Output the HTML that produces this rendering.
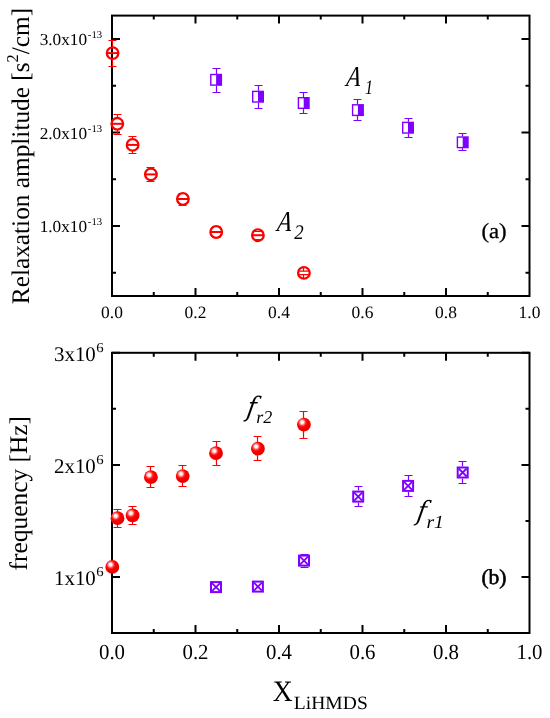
<!DOCTYPE html>
<html><head><meta charset="utf-8"><title>Relaxation amplitude and frequency vs X LiHMDS</title>
<style>
html,body{margin:0;padding:0;background:#fff;}
body{width:550px;height:718px;overflow:hidden;}
svg{display:block;}
text{font-family:"Liberation Serif", "Times New Roman", serif;fill:#000;text-rendering:geometricPrecision;}
</style></head>
<body>
<svg width="550" height="718" viewBox="0 0 550 718">
<defs>
<radialGradient id="bg" cx="0.38" cy="0.35" r="0.62" fx="0.37" fy="0.33">
<stop offset="0" stop-color="#ffffff"/>
<stop offset="0.16" stop-color="#fff2f2"/>
<stop offset="0.42" stop-color="#ff2a2a"/>
<stop offset="0.56" stop-color="#ff0000"/>
<stop offset="1" stop-color="#e40000"/>
</radialGradient>
</defs>
<rect width="550" height="718" fill="#fff"/>
<text transform="translate(101.08 318.15) scale(1.005 1)" font-size="17.37">0.0</text>
<text transform="translate(184.58 318.15) scale(1.005 1)" font-size="17.37">0.2</text>
<text transform="translate(268.08 318.15) scale(1.005 1)" font-size="17.37">0.4</text>
<text transform="translate(351.58 318.15) scale(1.005 1)" font-size="17.37">0.6</text>
<text transform="translate(435.08 318.15) scale(1.005 1)" font-size="17.37">0.8</text>
<text transform="translate(518.58 318.15) scale(1.005 1)" font-size="17.37">1.0</text>
<text transform="translate(39.67 45.48) scale(1.029 1)" font-size="16.78">3.0x10</text>
<text transform="translate(87.80 38.11) scale(1.039 1)" font-size="10.42">-13</text>
<text transform="translate(39.67 138.95) scale(1.029 1)" font-size="16.78">2.0x10</text>
<text transform="translate(87.80 131.58) scale(1.039 1)" font-size="10.42">-13</text>
<text transform="translate(39.67 232.41) scale(1.029 1)" font-size="16.78">1.0x10</text>
<text transform="translate(87.80 225.05) scale(1.039 1)" font-size="10.42">-13</text>
<path d="M153.75 296.00V292.00M153.75 15.60V19.60M195.50 296.00V288.00M195.50 15.60V23.60M237.25 296.00V292.00M237.25 15.60V19.60M279.00 296.00V288.00M279.00 15.60V23.60M320.75 296.00V292.00M320.75 15.60V19.60M362.50 296.00V288.00M362.50 15.60V23.60M404.25 296.00V292.00M404.25 15.60V19.60M446.00 296.00V288.00M446.00 15.60V23.60M487.75 296.00V292.00M487.75 15.60V19.60M112.00 225.90H120.00M529.50 225.90H521.50M112.00 132.43H120.00M529.50 132.43H521.50M112.00 38.97H120.00M529.50 38.97H521.50M112.00 272.63H116.00M529.50 272.63H525.50M112.00 179.17H116.00M529.50 179.17H525.50M112.00 85.70H116.00M529.50 85.70H525.50" stroke="#000" stroke-width="2" fill="none"/>
<rect x="112.0" y="15.6" width="417.5" height="280.4" fill="none" stroke="#000" stroke-width="2"/>
<path d="M108.50 40.50H116.50M108.50 66.50H116.50M112.50 40.50V47.30M112.50 58.90V66.50" stroke="#ff0000" stroke-width="1.2" fill="none"/><circle cx="112.60" cy="53.10" r="5.8" fill="none" stroke="#ff0000" stroke-width="2.3"/><path d="M107.10 53.10H118.10" stroke="#ff0000" stroke-width="2"/>
<path d="M113.50 114.50H121.50M113.50 134.50H121.50M117.50 114.50V118.00M117.50 129.60V134.50" stroke="#ff0000" stroke-width="1.2" fill="none"/><circle cx="117.30" cy="123.80" r="5.8" fill="none" stroke="#ff0000" stroke-width="2.3"/><path d="M111.80 123.80H122.80" stroke="#ff0000" stroke-width="2"/>
<path d="M128.50 136.50H136.50M128.50 153.50H136.50M132.50 136.50V139.10M132.50 150.70V153.50" stroke="#ff0000" stroke-width="1.2" fill="none"/><circle cx="132.60" cy="144.90" r="5.8" fill="none" stroke="#ff0000" stroke-width="2.3"/><path d="M127.10 144.90H138.10" stroke="#ff0000" stroke-width="2"/>
<path d="M146.50 167.50H154.50M146.50 181.50H154.50M150.50 167.50V168.60M150.50 180.20V181.50" stroke="#ff0000" stroke-width="1.2" fill="none"/><circle cx="150.90" cy="174.40" r="5.8" fill="none" stroke="#ff0000" stroke-width="2.3"/><path d="M145.40 174.40H156.40" stroke="#ff0000" stroke-width="2"/>
<path d="M178.50 193.50H186.50M178.50 205.50H186.50M182.50 204.80V205.50" stroke="#ff0000" stroke-width="1.2" fill="none"/><circle cx="182.90" cy="199.00" r="5.8" fill="none" stroke="#ff0000" stroke-width="2.3"/><path d="M177.40 199.00H188.40" stroke="#ff0000" stroke-width="2"/>
<path d="M212.50 226.50H220.50M212.50 237.50H220.50" stroke="#ff0000" stroke-width="1.2" fill="none"/><circle cx="216.20" cy="232.00" r="5.8" fill="none" stroke="#ff0000" stroke-width="2.3"/><path d="M210.70 232.00H221.70" stroke="#ff0000" stroke-width="2"/>
<path d="M253.50 231.50H261.50M253.50 239.50H261.50" stroke="#ff0000" stroke-width="1.2" fill="none"/><circle cx="257.90" cy="235.20" r="5.8" fill="none" stroke="#ff0000" stroke-width="2.3"/><path d="M252.40 235.20H263.40" stroke="#ff0000" stroke-width="2"/>
<circle cx="303.90" cy="272.90" r="5.8" fill="none" stroke="#ff0000" stroke-width="2.3"/><path d="M298.70 271.20H309.10M298.70 274.60H309.10" stroke="#ff0000" stroke-width="1.3"/><path d="M303.50 267.40V271.20M303.50 274.60V278.40" stroke="#ff0000" stroke-width="1.2"/>
<path d="M212.50 68.50H220.50M212.50 92.50H220.50M216.50 68.50V73.90M216.50 85.70V92.50" stroke="#8000ff" stroke-width="1.2" fill="none"/><rect x="210.80" y="74.50" width="10.6" height="10.6" fill="#fff" stroke="#8000ff" stroke-width="1.4"/><rect x="216.10" y="74.50" width="5.3" height="10.6" fill="#8000ff"/>
<path d="M254.50 85.50H262.50M254.50 108.50H262.50M258.50 85.50V90.80M258.50 102.60V108.50" stroke="#8000ff" stroke-width="1.2" fill="none"/><rect x="252.70" y="91.40" width="10.6" height="10.6" fill="#fff" stroke="#8000ff" stroke-width="1.4"/><rect x="258.00" y="91.40" width="5.3" height="10.6" fill="#8000ff"/>
<path d="M299.50 92.50H307.50M299.50 113.50H307.50M303.50 92.50V97.10M303.50 108.90V113.50" stroke="#8000ff" stroke-width="1.2" fill="none"/><rect x="298.40" y="97.70" width="10.6" height="10.6" fill="#fff" stroke="#8000ff" stroke-width="1.4"/><rect x="303.70" y="97.70" width="5.3" height="10.6" fill="#8000ff"/>
<path d="M353.50 99.50H361.50M353.50 120.50H361.50M357.50 99.50V104.20M357.50 116.00V120.50" stroke="#8000ff" stroke-width="1.2" fill="none"/><rect x="352.60" y="104.80" width="10.6" height="10.6" fill="#fff" stroke="#8000ff" stroke-width="1.4"/><rect x="357.90" y="104.80" width="5.3" height="10.6" fill="#8000ff"/>
<path d="M404.50 118.50H412.50M404.50 137.50H412.50M408.50 118.50V121.80M408.50 133.60V137.50" stroke="#8000ff" stroke-width="1.2" fill="none"/><rect x="402.70" y="122.40" width="10.6" height="10.6" fill="#fff" stroke="#8000ff" stroke-width="1.4"/><rect x="408.00" y="122.40" width="5.3" height="10.6" fill="#8000ff"/>
<path d="M458.50 133.50H466.50M458.50 150.50H466.50M462.50 133.50V136.40M462.50 148.20V150.50" stroke="#8000ff" stroke-width="1.2" fill="none"/><rect x="457.40" y="137.00" width="10.6" height="10.6" fill="#fff" stroke="#8000ff" stroke-width="1.4"/><rect x="462.70" y="137.00" width="5.3" height="10.6" fill="#8000ff"/>
<text transform="translate(345.77 85.50) skewX(-7) scale(0.810 1)" font-size="28.63" font-style="italic">A</text>
<text transform="translate(365.03 94.10) scale(0.781 1)" font-size="20.45" font-style="italic">1</text>
<text transform="translate(276.39 230.90) skewX(-7) scale(0.821 1)" font-size="28.78" font-style="italic">A</text>
<text transform="translate(294.29 239.10) scale(0.911 1)" font-size="20.69" font-style="italic">2</text>
<text transform="translate(481.40 237.62) scale(1.056 1)" font-size="21.51" stroke="#000" stroke-width="0.3">(a)</text>
<text transform="translate(29.3,156) rotate(-90)" text-anchor="middle" font-size="25.3">Relaxation amplitude [s<tspan font-size="16.5" dy="-11.5">2</tspan><tspan dy="11.5">/cm]</tspan></text>
<path d="M153.75 633.00V629.00M153.75 352.80V356.80M195.50 633.00V625.00M195.50 352.80V360.80M237.25 633.00V629.00M237.25 352.80V356.80M279.00 633.00V625.00M279.00 352.80V360.80M320.75 633.00V629.00M320.75 352.80V356.80M362.50 633.00V625.00M362.50 352.80V360.80M404.25 633.00V629.00M404.25 352.80V356.80M446.00 633.00V625.00M446.00 352.80V360.80M487.75 633.00V629.00M487.75 352.80V356.80M112.00 576.96H120.00M529.50 576.96H521.50M112.00 464.88H120.00M529.50 464.88H521.50M112.00 352.80H120.00M529.50 352.80H521.50M112.00 520.92H116.00M529.50 520.92H525.50M112.00 408.84H116.00M529.50 408.84H525.50" stroke="#000" stroke-width="2" fill="none"/>
<rect x="112.0" y="352.8" width="417.5" height="280.2" fill="none" stroke="#000" stroke-width="2"/>
<text transform="translate(98.96 658.99) scale(0.964 1)" font-size="21.64">0.0</text>
<text transform="translate(182.46 658.99) scale(0.964 1)" font-size="21.64">0.2</text>
<text transform="translate(265.96 658.99) scale(0.964 1)" font-size="21.64">0.4</text>
<text transform="translate(349.46 658.99) scale(0.964 1)" font-size="21.64">0.6</text>
<text transform="translate(432.96 658.99) scale(0.964 1)" font-size="21.64">0.8</text>
<text transform="translate(516.46 658.99) scale(0.964 1)" font-size="21.64">1.0</text>
<text transform="translate(53.98 360.50) scale(1.001 1)" font-size="20.89">3x10</text>
<text transform="translate(96.17 351.57) scale(1.089 1)" font-size="13.54">6</text>
<text transform="translate(53.98 472.58) scale(1.001 1)" font-size="20.89">2x10</text>
<text transform="translate(96.17 463.65) scale(1.089 1)" font-size="13.54">6</text>
<text transform="translate(53.98 584.66) scale(1.001 1)" font-size="20.89">1x10</text>
<text transform="translate(96.17 575.73) scale(1.089 1)" font-size="13.54">6</text>
<circle cx="112.30" cy="566.90" r="6.9" fill="url(#bg)"/>
<path d="M113.50 509.50H121.50M113.50 527.50H121.50M117.50 509.50V511.70M117.50 524.70V527.50" stroke="#ff0000" stroke-width="1.2" fill="none"/><circle cx="117.50" cy="518.20" r="6.9" fill="url(#bg)"/>
<path d="M128.50 506.50H136.50M128.50 524.50H136.50M132.50 506.50V508.90M132.50 521.90V524.50" stroke="#ff0000" stroke-width="1.2" fill="none"/><circle cx="132.60" cy="515.40" r="6.9" fill="url(#bg)"/>
<path d="M146.50 466.50H154.50M146.50 487.50H154.50M150.50 466.50V470.70M150.50 483.70V487.50" stroke="#ff0000" stroke-width="1.2" fill="none"/><circle cx="150.90" cy="477.20" r="6.9" fill="url(#bg)"/>
<path d="M178.50 465.50H186.50M178.50 486.50H186.50M182.50 465.50V469.60M182.50 482.60V486.50" stroke="#ff0000" stroke-width="1.2" fill="none"/><circle cx="182.70" cy="476.10" r="6.9" fill="url(#bg)"/>
<path d="M212.50 441.50H220.50M212.50 465.50H220.50M216.50 441.50V446.70M216.50 459.70V465.50" stroke="#ff0000" stroke-width="1.2" fill="none"/><circle cx="216.00" cy="453.20" r="6.9" fill="url(#bg)"/>
<path d="M253.50 436.50H261.50M253.50 460.50H261.50M257.50 436.50V442.20M257.50 455.20V460.50" stroke="#ff0000" stroke-width="1.2" fill="none"/><circle cx="257.90" cy="448.70" r="6.9" fill="url(#bg)"/>
<path d="M299.50 411.50H307.50M299.50 438.50H307.50M303.50 411.50V418.10M303.50 431.10V438.50" stroke="#ff0000" stroke-width="1.2" fill="none"/><circle cx="303.90" cy="424.60" r="6.9" fill="url(#bg)"/>
<path d="M212.50 582.50H220.50M212.50 591.50H220.50" stroke="#8000ff" stroke-width="1.2" fill="none"/><rect x="211.00" y="582.10" width="10" height="10" fill="#fff" stroke="#8000ff" stroke-width="2"/><path d="M212.00 583.10L220.00 591.10M220.00 583.10L212.00 591.10" stroke="#8000ff" stroke-width="1.8"/>
<path d="M253.50 582.50H261.50M253.50 591.50H261.50" stroke="#8000ff" stroke-width="1.2" fill="none"/><rect x="252.90" y="581.60" width="10" height="10" fill="#fff" stroke="#8000ff" stroke-width="2"/><path d="M253.90 582.60L261.90 590.60M261.90 582.60L253.90 590.60" stroke="#8000ff" stroke-width="1.8"/>
<path d="M300.50 554.50H308.50M300.50 567.50H308.50M304.50 554.50V554.60M304.50 566.60V567.50" stroke="#8000ff" stroke-width="1.2" fill="none"/><rect x="299.00" y="555.60" width="10" height="10" fill="#fff" stroke="#8000ff" stroke-width="2"/><path d="M300.00 556.60L308.00 564.60M308.00 556.60L300.00 564.60" stroke="#8000ff" stroke-width="1.8"/>
<path d="M354.50 486.50H362.50M354.50 506.50H362.50M358.50 486.50V490.60M358.50 502.60V506.50" stroke="#8000ff" stroke-width="1.2" fill="none"/><rect x="353.20" y="491.60" width="10" height="10" fill="#fff" stroke="#8000ff" stroke-width="2"/><path d="M354.20 492.60L362.20 500.60M362.20 492.60L354.20 500.60" stroke="#8000ff" stroke-width="1.8"/>
<path d="M404.50 475.50H412.50M404.50 496.50H412.50M408.50 475.50V479.90M408.50 491.90V496.50" stroke="#8000ff" stroke-width="1.2" fill="none"/><rect x="403.10" y="480.90" width="10" height="10" fill="#fff" stroke="#8000ff" stroke-width="2"/><path d="M404.10 481.90L412.10 489.90M412.10 481.90L404.10 489.90" stroke="#8000ff" stroke-width="1.8"/>
<path d="M458.50 461.50H466.50M458.50 483.50H466.50M462.50 461.50V466.50M462.50 478.50V483.50" stroke="#8000ff" stroke-width="1.2" fill="none"/><rect x="457.70" y="467.50" width="10" height="10" fill="#fff" stroke="#8000ff" stroke-width="2"/><path d="M458.70 468.50L466.70 476.50M466.70 468.50L458.70 476.50" stroke="#8000ff" stroke-width="1.8"/>
<text transform="translate(245.75 415.99) skewX(-10) scale(0.900 1)" font-size="26.97" font-style="italic" style="font-family:'DejaVu Serif',serif">f</text>
<text transform="translate(256.17 422.70) scale(1.003 1)" font-size="17.97" font-style="italic">r2</text>
<text transform="translate(415.98 520.45) skewX(-10) scale(0.900 1)" font-size="26.66" font-style="italic" style="font-family:'DejaVu Serif',serif">f</text>
<text transform="translate(426.40 527.80) scale(1.057 1)" font-size="18.63" font-style="italic">r1</text>
<text transform="translate(481.45 583.99) scale(1.016 1)" font-size="21.17" stroke="#000" stroke-width="0.6">(b)</text>
<text transform="translate(27,493.2) rotate(-90)" text-anchor="middle" font-size="25.4">frequency [Hz]</text>
<text transform="translate(272.69 701.30) scale(0.930 1)" font-size="29.63">X</text>
<text transform="translate(293.84 709.02) scale(1.044 1)" font-size="18.75">LiHMDS</text>
</svg>
</body></html>
